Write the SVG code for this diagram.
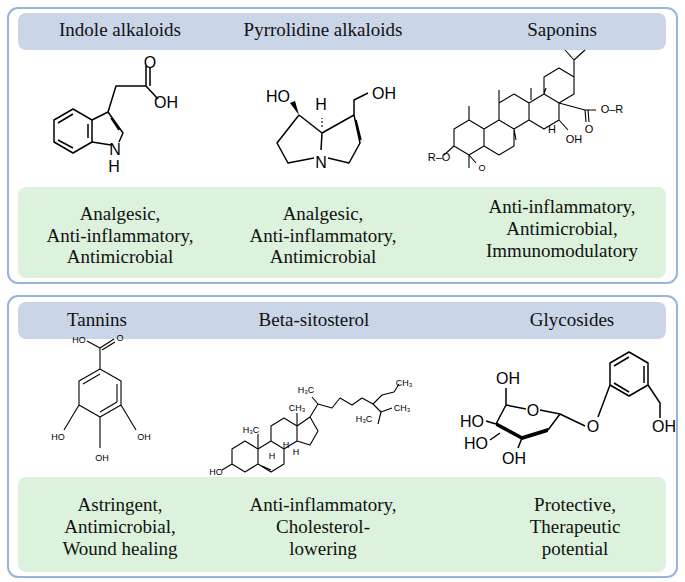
<svg xmlns="http://www.w3.org/2000/svg" width="685" height="582" viewBox="0 0 685 582">
<style>
.panel{fill:#fff;stroke:#98b4da;stroke-width:2}
.hdr{fill:#cbd5e8}
.grn{fill:#dcf2dc}
.t{font-family:"Liberation Serif","DejaVu Serif",serif;font-size:19px;fill:#111;text-anchor:middle}
.b{fill:none;stroke:#000;stroke-width:1.5;stroke-linejoin:round}
.bs{fill:none;stroke:#000;stroke-width:1.1;stroke-linejoin:round}
.a{font-family:"Liberation Sans",sans-serif;font-size:16px;fill:#000;text-anchor:middle}
.s{font-family:"Liberation Sans",sans-serif;font-size:11px;fill:#000;text-anchor:middle}
.xs{font-family:"Liberation Sans",sans-serif;font-size:9px;fill:#000;text-anchor:middle}
</style>
<g id="panel-top">
<rect class="panel" x="8" y="8" width="669" height="275" rx="10"/>
<rect class="hdr" x="18" y="13" width="648" height="37" rx="8"/>
<rect class="grn" x="18" y="187" width="648" height="91" rx="8"/>
</g>
<g id="panel-bottom">
<rect class="panel" x="8" y="296" width="669" height="281" rx="10"/>
<rect class="hdr" x="18" y="302" width="648" height="37" rx="8"/>
<rect class="grn" x="18" y="477" width="648" height="95" rx="8"/>
</g>
<g id="indole">
<text class="t" x="120" y="36">Indole alkaloids</text>
<path class="b" d="M73,109 L92,120 L92,142 L73,153 L54,142 L54,120 Z M58,123 L73,114 M58,140 L73,148 M88,124 L88,138"/>
<path class="b" d="M92,120 L108,112 L123,133 L119,142 M111,145 L92,142 M108,112 L116,86 L146,86 L146,66 M150,86 L150,68 M146,86 L158,99 M111,118 L119,130"/>
<text class="a" x="150" y="68">O</text>
<text class="a" x="166" y="108">OH</text>
<text class="a" x="115" y="155">N</text>
<text class="a" x="114" y="172">H</text>
<text class="t" x="120" y="220">Analgesic,</text>
<text class="t" x="120" y="242">Anti-inflammatory,</text>
<text class="t" x="120" y="263">Antimicrobial</text>
</g>
<g id="pyrrolidine">
<text class="t" x="323" y="36">Pyrrolidine alkaloids</text>
<path class="b" d="M299,115 L322,133 L354,115 L360,143 L349,163 L328,158 M314,158 L288,163 L277,143 L299,115 M322,133 L321,150 M356,120 L361,140 M354,115 L354,100 L368,93"/>
<path d="M299,115 L290,103 L295,101 Z" fill="#000"/>
<path class="bs" d="M322,127 L322,118" stroke-dasharray="2,2"/>
<text class="a" x="278" y="102">HO</text>
<text class="a" x="321" y="110">H</text>
<text class="a" x="384" y="99">OH</text>
<text class="a" x="321" y="168">N</text>
<text class="t" x="323" y="220">Analgesic,</text>
<text class="t" x="323" y="242">Anti-inflammatory,</text>
<text class="t" x="323" y="263">Antimicrobial</text>
</g>
<g id="saponins">
<text class="t" x="562" y="36">Saponins</text>
<path class="bs" d="M469,120 L484,129 L484,146 L469,155 L454,146 L454,129 Z M484,129 L499,120 L514,129 L514,146 L499,155 L484,146 M499,120 L499,103 L514,94 L529,103 L529,120 L514,129 M529,103 L544,94 L559,103 L559,120 L544,129 L529,120 M544,94 L544,77 L559,68 L574,77 L574,94 L559,103 M574,77 L574,60 L565,50 M574,60 L585,50 M531,100 L531,88 M544,94 L546,88 M469,120 L469,106 M499,103 L499,90 M514,129 L516,140 M559,103 L585,110 L596,110 M585,110 L586,122 M588,110 L589,122 M559,120 L568,130 M469,155 L469,168 M454,146 L444,155 M469,155 L476,163"/>
<text class="s" x="439" y="161">R–O</text>
<text class="s" x="612" y="113">O–R</text>
<text class="s" x="589" y="133">O</text>
<text class="s" x="574" y="143">OH</text>
<text class="s" x="552" y="133">H</text>
<text class="xs" x="482" y="171">O</text>
<text class="t" x="562" y="213">Anti-inflammatory,</text>
<text class="t" x="562" y="235">Antimicrobial,</text>
<text class="t" x="562" y="257">Immunomodulatory</text>
</g>
<g id="tannins">
<text class="t" x="97" y="326">Tannins</text>
<path class="bs" d="M100,369 L121,381 L121,405 L100,417 L79,405 L79,381 Z M83,384 L100,374 M117,402 L100,412 M117,384 L117,402 M100,369 L100,348 L87,341 M100,348 L114,339 M102,350 L115,342 M79,405 L64,430 M121,405 L136,430 M100,417 L100,448"/>
<text class="xs" x="79" y="343">HO</text>
<text class="xs" x="120" y="341">O</text>
<text class="xs" x="58" y="440">HO</text>
<text class="xs" x="144" y="440">OH</text>
<text class="xs" x="102" y="461">OH</text>
<text class="t" x="120" y="511">Astringent,</text>
<text class="t" x="120" y="533">Antimicrobial,</text>
<text class="t" x="120" y="555">Wound healing</text>
</g>
<g id="sitosterol">
<text class="t" x="314" y="326">Beta-sitosterol</text>
<path class="bs" d="M245,441 L258,449 L258,464 L245,472 L232,464 L232,449 Z M258,449 L271,441 L284,449 L284,464 L271,472 L258,464 M271,441 L271,426 L284,418 L297,426 L297,441 L284,449 M297,426 L310,417 L318,431 L310,445 L297,441 M262,466 L271,470 M258,449 L258,434 M297,426 L297,413 M310,417 L318,404 L332,408 L340,398 L352,405 L362,398 L373,404 L382,395 L394,392 L399,384 M373,404 L381,412 L392,408 M381,412 L378,424 M318,404 L312,397 M232,464 L222,470"/>
<text class="xs" x="251" y="433">H₃C</text>
<text class="xs" x="297" y="411">CH₃</text>
<text class="xs" x="306" y="393">H₃C</text>
<text class="xs" x="404" y="386">CH₃</text>
<text class="xs" x="402" y="411">CH₃</text>
<text class="xs" x="364" y="422">H₃C</text>
<text class="xs" x="286" y="448">H</text>
<text class="xs" x="272" y="459">H</text>
<text class="xs" x="296" y="455">H</text>
<text class="xs" x="216" y="475">HO</text>
<text class="t" x="323" y="511">Anti-inflammatory,</text>
<text class="t" x="323" y="533">Cholesterol-</text>
<text class="t" x="323" y="555">lowering</text>
</g>
<g id="glycosides">
<text class="t" x="572" y="326">Glycosides</text>
<polygon class="b" points="629,352 648,363 648,385 629,396 610,385 610,363"/>
<path class="b" d="M614,366 L629,357 M644,366 L644,383 M614,383 L629,392 M648,385 L660,403 L660,418 M610,385 L598,417 M506,405 L506,388 M506,405 L526,409 M540,410 L560,414 L585,426 M560,414 L548,430 M496,424 L506,405 M496,424 L486,421 M522,438 L518,448 M500,433 L490,440"/>
<path d="M496,422 L522,436 L548,428 L548,432 L522,440 L496,426 Z" fill="#000"/>
<text class="a" x="508" y="384">OH</text>
<text class="a" x="533" y="416">O</text>
<text class="a" x="472" y="427">HO</text>
<text class="a" x="476" y="449">HO</text>
<text class="a" x="514" y="464">OH</text>
<text class="a" x="593" y="432">O</text>
<text class="a" x="664" y="432">OH</text>
<text class="t" x="575" y="511">Protective,</text>
<text class="t" x="575" y="533">Therapeutic</text>
<text class="t" x="575" y="555">potential</text>
</g>
<g id="connectors"/>
</svg>
